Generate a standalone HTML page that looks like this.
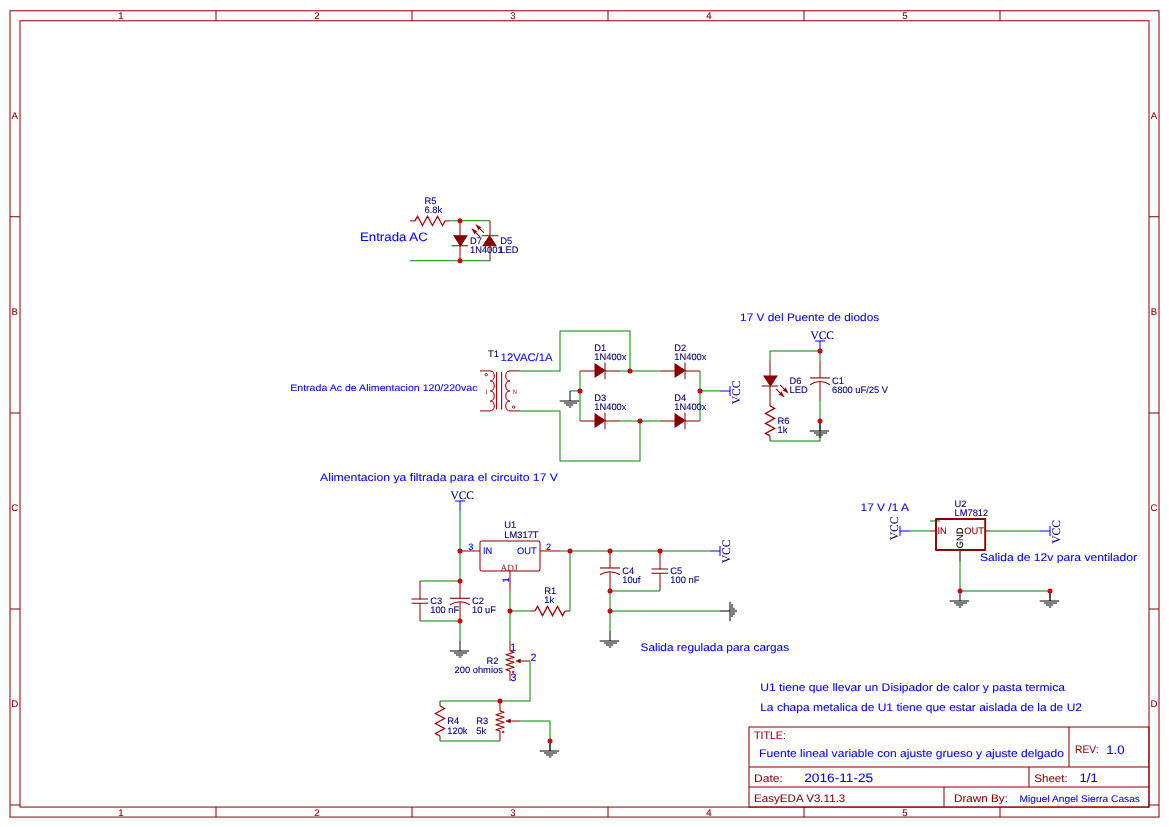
<!DOCTYPE html>
<html>
<head>
<meta charset="utf-8">
<title>Fuente lineal variable con ajuste grueso y ajuste delgado</title>
<style>
html,body{margin:0;padding:0;background:#fff;}
body{width:1169px;height:827px;overflow:hidden;font-family:"Liberation Sans",sans-serif;}
svg{display:block;will-change:transform;}
text{text-rendering:geometricPrecision;}
.ls{font-family:"Liberation Sans",sans-serif;}
.lf{font-family:"Liberation Serif",serif;}
.lm{font-family:"Liberation Mono",monospace;}
</style>
</head>
<body>
<svg width="1169" height="827" viewBox="0 0 1169 827">
<rect x="0" y="0" width="1169" height="827" fill="#fff"/>
<g transform="matrix(1 0 0 1.00036 0 0.766)" stroke-width="1" stroke-linecap="butt">
<rect x="10" y="10" width="1149" height="806" fill="none" stroke="#880000"/>
<rect x="20" y="20" width="1129" height="786" fill="none" stroke="#880000"/>
<path d="M216 10 L216 20 M216 806 L216 816 M412 10 L412 20 M412 806 L412 816 M608 10 L608 20 M608 806 L608 816 M804 10 L804 20 M804 806 L804 816 M1000 10 L1000 20 M1000 806 L1000 816 M10 216 L20 216 M1149 216 L1159 216 M10 412 L20 412 M1149 412 L1159 412 M10 608 L20 608 M1149 608 L1159 608 M10 804 L20 804 M1149 804 L1159 804 " stroke="#880000" fill="none"/>
<rect x="749" y="726" width="400" height="80" fill="none" stroke="#880000"/>
<path d="M749 766 L1149 766 M749 786 L1149 786 M1069 726 L1069 766 M1029 766 L1029 786 M944 786 L944 806" stroke="#880000" fill="none"/>
<path d="M410 220 L415 220" stroke="#880000" stroke-width="1" fill="none"/>
<path d="M445 220 L450 220" stroke="#880000" stroke-width="1" fill="none"/>
<path d="M415 220 L417.5 215.4 L422.5 224.6 L427.5 215.4 L432.5 224.6 L437.5 215.4 L442.5 224.6 L445 220" stroke="#A00000" stroke-width="1.25" fill="none" />
<path d="M450 220 L490 220" stroke="#008800" fill="none"/>
<path d="M410 260 L490 260" stroke="#008800" fill="none"/>
<g transform="translate(460 240) rotate(0)"><path d="M0 -20 L0 -5 M0 5 L0 20 M-8.3 5 L8.3 5" stroke="#880000" fill="none"/><path d="M-6.1 -5 L7 -5 L0.45 5 Z" fill="#880000" stroke="#880000" stroke-width="1"/></g>
<g transform="translate(490 240) rotate(180)"><path d="M0 -20 L0 -5 M0 5 L0 20 M-8.3 5 L8.3 5" stroke="#880000" fill="none"/><path d="M-6.1 -5 L7 -5 L0.45 5 Z" fill="#880000" stroke="#880000" stroke-width="1"/><path d="M6 8 L11 13" stroke="#880000" stroke-width="1.1" fill="none"/><path d="M14.21 16.21 L8.77 13.31 L10.75 12.75 L11.31 10.77 Z" fill="#880000" stroke="#880000" stroke-width="0.5" stroke-linejoin="round"/><path d="M10 4 L15 9" stroke="#880000" stroke-width="1.1" fill="none"/><path d="M18.21 12.21 L12.77 9.31 L14.75 8.75 L15.31 6.77 Z" fill="#880000" stroke="#880000" stroke-width="0.5" stroke-linejoin="round"/></g>
<circle cx="460" cy="220" r="2.5" fill="#D2000F"/>
<circle cx="460" cy="260" r="2.5" fill="#D2000F"/>
<path d="M480 370 L490 370" stroke="#880000" stroke-width="1" fill="none"/>
<path d="M480 410 L490 410" stroke="#880000" stroke-width="1" fill="none"/>
<path d="M510 370 L520 370" stroke="#880000" stroke-width="1" fill="none"/>
<path d="M510 410 L520 410" stroke="#880000" stroke-width="1" fill="none"/>
<path d="M490 370 A4.3 5 0 0 1 490 380 A4.3 5 0 0 1 490 390 A4.3 5 0 0 1 490 400 A4.3 5 0 0 1 490 410" stroke="#A00000" stroke-width="1.1" fill="none" />
<path d="M510 370 A4.3 5 0 0 0 510 380 A4.3 5 0 0 0 510 390 A4.3 5 0 0 0 510 400 A4.3 5 0 0 0 510 410" stroke="#A00000" stroke-width="1.1" fill="none" />
<path d="M496.6 371 L496.6 408.5 M501.6 371 L501.6 408.5" stroke="#A00000" stroke-width="1.1" fill="none" />
<circle cx="486.3" cy="373.8" r="1.2" fill="none" stroke="#A00000" stroke-width="0.9"/>
<circle cx="513.7" cy="406.2" r="1.2" fill="none" stroke="#A00000" stroke-width="0.9"/>
<path d="M520 370 L560 370 L560 330 L630 330 L630 370" stroke="#008800" fill="none"/>
<path d="M520 410 L560 410 L560 460 L640 460 L640 420" stroke="#008800" fill="none"/>
<path d="M580 370 L580 420" stroke="#008800" fill="none"/>
<path d="M580 390 L570 390" stroke="#008800" fill="none"/>
<path transform="translate(570 390) rotate(0)" d="M0 0 L0 10 M-10.3 10.09 L9.2 10.09 M-6 12.09 L7 12.09 M-4 14.09 L3.2 14.09 M-1.2 16.09 L1.3 16.09" stroke="#000" fill="none"/>
<path d="M620 370 L660 370" stroke="#008800" fill="none"/>
<path d="M620 420 L660 420" stroke="#008800" fill="none"/>
<path d="M700 370 L700 420" stroke="#008800" fill="none"/>
<path d="M700 390 L720 390" stroke="#008800" fill="none"/>
<path d="M720 390 L730 390 M730 385 L730 395" stroke="#0000FF" fill="none"/>
<g transform="translate(600 370) rotate(-90)"><path d="M0 -20 L0 -5 M0 5 L0 20 M-8.3 5 L8.3 5" stroke="#880000" fill="none"/><path d="M-6.1 -5 L7 -5 L0.45 5 Z" fill="#880000" stroke="#880000" stroke-width="1"/></g>
<g transform="translate(680 370) rotate(-90)"><path d="M0 -20 L0 -5 M0 5 L0 20 M-8.3 5 L8.3 5" stroke="#880000" fill="none"/><path d="M-6.1 -5 L7 -5 L0.45 5 Z" fill="#880000" stroke="#880000" stroke-width="1"/></g>
<g transform="translate(600 420) rotate(-90)"><path d="M0 -20 L0 -5 M0 5 L0 20 M-8.3 5 L8.3 5" stroke="#880000" fill="none"/><path d="M-6.1 -5 L7 -5 L0.45 5 Z" fill="#880000" stroke="#880000" stroke-width="1"/></g>
<g transform="translate(680 420) rotate(-90)"><path d="M0 -20 L0 -5 M0 5 L0 20 M-8.3 5 L8.3 5" stroke="#880000" fill="none"/><path d="M-6.1 -5 L7 -5 L0.45 5 Z" fill="#880000" stroke="#880000" stroke-width="1"/></g>
<circle cx="630" cy="370" r="2.5" fill="#D2000F"/>
<circle cx="640" cy="420" r="2.5" fill="#D2000F"/>
<circle cx="580" cy="390" r="2.5" fill="#D2000F"/>
<circle cx="700" cy="390" r="2.5" fill="#D2000F"/>
<path d="M820 350 L820 340 M815 340 L825 340" stroke="#0000FF" fill="none"/>
<path d="M770 360 L770 350 L820 350 L820 360" stroke="#008800" fill="none"/>
<g transform="translate(770 380) rotate(0)"><path d="M0 -20 L0 -5 M0 5 L0 20 M-8.3 5 L8.3 5" stroke="#880000" fill="none"/><path d="M-6.1 -5 L7 -5 L0.45 5 Z" fill="#880000" stroke="#880000" stroke-width="1"/><path d="M6 8 L11 13" stroke="#880000" stroke-width="1.1" fill="none"/><path d="M14.21 16.21 L8.77 13.31 L10.75 12.75 L11.31 10.77 Z" fill="#880000" stroke="#880000" stroke-width="0.5" stroke-linejoin="round"/><path d="M10 4 L15 9" stroke="#880000" stroke-width="1.1" fill="none"/><path d="M18.21 12.21 L12.77 9.31 L14.75 8.75 L15.31 6.77 Z" fill="#880000" stroke="#880000" stroke-width="0.5" stroke-linejoin="round"/></g>
<path d="M770 400 L770 405" stroke="#880000" stroke-width="1" fill="none"/>
<path d="M770 435 L770 440" stroke="#880000" stroke-width="1" fill="none"/>
<path d="M770 405 L774.6 407.5 L765.4 412.5 L774.6 417.5 L765.4 422.5 L774.6 427.5 L765.4 432.5 L770 435" stroke="#A00000" stroke-width="1.25" fill="none" />
<path d="M770 440 L820 440 L820 400" stroke="#008800" fill="none"/>
<path d="M820 360 L820 377" stroke="#880000" stroke-width="1" fill="none"/>
<path d="M820 380.8 L820 400" stroke="#880000" stroke-width="1" fill="none"/>
<path d="M810 377 L830 377" stroke="#880000" stroke-width="1.1" fill="none" />
<path d="M810 383.8 Q820 377.6 830 383.8" stroke="#A00000" stroke-width="1" fill="none" />
<path transform="translate(820 420) rotate(0)" d="M0 0 L0 10 M-10.3 10.0792 L9.2 10.0792 M-6 12.0792 L7 12.0792 M-4 14.0792 L3.2 14.0792 M-1.2 16.0792 L1.3 16.0792" stroke="#000" fill="none"/>
<circle cx="820" cy="350" r="2.5" fill="#D2000F"/>
<circle cx="820" cy="420" r="2.5" fill="#D2000F"/>
<path d="M460 510 L460 500 M455 500 L465 500" stroke="#0000FF" fill="none"/>
<path d="M460 510 L460 580" stroke="#008800" fill="none"/>
<path d="M460 550 L480 550" stroke="#880000" stroke-width="1" fill="none"/>
<path d="M540 550 L560 550" stroke="#880000" stroke-width="1" fill="none"/>
<path d="M510 570 L510 590" stroke="#880000" stroke-width="1" fill="none"/>
<rect x="480" y="540" width="60" height="30" rx="1.5" ry="1.5" fill="none" stroke="#880000"/>
<path d="M560 550 L710 550" stroke="#008800" fill="none"/>
<path d="M710 550 L720 550 M720 545 L720 555" stroke="#0000FF" fill="none"/>
<path d="M570 550 L570 610" stroke="#008800" fill="none"/>
<path d="M530 610 L535 610" stroke="#880000" stroke-width="1" fill="none"/>
<path d="M565 610 L570 610" stroke="#880000" stroke-width="1" fill="none"/>
<path d="M535 610 L537.5 605.4 L542.5 614.6 L547.5 605.4 L552.5 614.6 L557.5 605.4 L562.5 614.6 L565 610" stroke="#A00000" stroke-width="1.25" fill="none" />
<path d="M510 590 L510 640" stroke="#008800" fill="none"/>
<path d="M510 610 L530 610" stroke="#008800" fill="none"/>
<path d="M420 580 L460 580" stroke="#008800" fill="none"/>
<path d="M420 620 L460 620" stroke="#008800" fill="none"/>
<path d="M460 620 L460 640" stroke="#008800" fill="none"/>
<path d="M420 580 L420 598.5" stroke="#880000" stroke-width="1" fill="none"/>
<path d="M420 602 L420 620" stroke="#880000" stroke-width="1" fill="none"/>
<path d="M411.5 598 L428 598 M411.5 602.3 L428 602.3" stroke="#880000" stroke-width="1.1" fill="none" />
<path d="M460 580 L460 597.3" stroke="#880000" stroke-width="1" fill="none"/>
<path d="M460 600.8 L460 620" stroke="#880000" stroke-width="1" fill="none"/>
<path d="M450 597.3 L470 597.3" stroke="#880000" stroke-width="1.1" fill="none" />
<path d="M450 603.8 Q460 597.6 470 603.8" stroke="#A00000" stroke-width="1" fill="none" />
<path transform="translate(460 640) rotate(0)" d="M0 0 L0 10 M-10.3 10 L9.2 10 M-6 12 L7 12 M-4 14 L3.2 14 M-1.2 16 L1.3 16" stroke="#000" fill="none"/>
<circle cx="460" cy="550" r="2.5" fill="#D2000F"/>
<circle cx="460" cy="580" r="2.5" fill="#D2000F"/>
<circle cx="460" cy="620" r="2.5" fill="#D2000F"/>
<circle cx="570" cy="550" r="2.5" fill="#D2000F"/>
<circle cx="510" cy="610" r="2.5" fill="#D2000F"/>
<path d="M510 640 L510 650" stroke="#880000" stroke-width="1" fill="none"/>
<path d="M510 670 L510 680" stroke="#880000" stroke-width="1" fill="none"/>
<path d="M510 650 L514.1 651.25 L505.9 653.75 L514.1 656.25 L505.9 658.75 L514.1 661.25 L505.9 663.75 L514.1 666.25 L505.9 668.75 L510 670" stroke="#A00000" stroke-width="1" fill="none" stroke-linejoin="round"/>
<path d="M530 660 L520 660" stroke="#880000" stroke-width="1" fill="none"/>
<path d="M515.8 660 L520.4 658 L520.4 662 Z" stroke="#880000" stroke-width="0.5" fill="#880000" />
<circle cx="513.1" cy="671" r="1.3" fill="#DD2222"/>
<path d="M530 660 L530 700 L440 700" stroke="#008800" fill="none"/>
<path d="M440 700 L440 705" stroke="#880000" stroke-width="1" fill="none"/>
<path d="M440 735 L440 740" stroke="#880000" stroke-width="1" fill="none"/>
<path d="M440 705 L444.6 707.5 L435.4 712.5 L444.6 717.5 L435.4 722.5 L444.6 727.5 L435.4 732.5 L440 735" stroke="#A00000" stroke-width="1.25" fill="none" />
<path d="M440 740 L500 740" stroke="#008800" fill="none"/>
<path d="M500 700 L500 710" stroke="#880000" stroke-width="1" fill="none"/>
<path d="M500 730 L500 740" stroke="#880000" stroke-width="1" fill="none"/>
<path d="M500 710 L504.1 711.25 L495.9 713.75 L504.1 716.25 L495.9 718.75 L504.1 721.25 L495.9 723.75 L504.1 726.25 L495.9 728.75 L500 730" stroke="#A00000" stroke-width="1" fill="none" stroke-linejoin="round"/>
<path d="M520 720 L510 720" stroke="#880000" stroke-width="1" fill="none"/>
<path d="M505.8 720 L510.4 718 L510.4 722 Z" stroke="#880000" stroke-width="0.5" fill="#880000" />
<circle cx="503.1" cy="731" r="1.3" fill="#DD2222"/>
<path d="M520 720 L550 720 L550 740" stroke="#008800" fill="none"/>
<path d="M550 740 L550 750" stroke="#008800" fill="none"/>
<path transform="translate(550 740) rotate(0)" d="M0 0 L0 10 M-10.3 9.96401 L9.2 9.96401 M-6 11.964 L7 11.964 M-4 13.964 L3.2 13.964 M-1.2 15.964 L1.3 15.964" stroke="#000" fill="none"/>
<circle cx="500" cy="700" r="2.5" fill="#D2000F"/>
<circle cx="550" cy="740" r="2.5" fill="#D2000F"/>
<path d="M610 550 L610 567" stroke="#880000" stroke-width="1" fill="none"/>
<path d="M610 570.8 L610 590" stroke="#880000" stroke-width="1" fill="none"/>
<path d="M600 567 L620 567" stroke="#880000" stroke-width="1.1" fill="none" />
<path d="M600 573.8 Q610 567.6 620 573.8" stroke="#A00000" stroke-width="1" fill="none" />
<path d="M660 550 L660 568.5" stroke="#880000" stroke-width="1" fill="none"/>
<path d="M660 572 L660 590" stroke="#880000" stroke-width="1" fill="none"/>
<path d="M651.5 568 L668 568 M651.5 572.3 L668 572.3" stroke="#880000" stroke-width="1.1" fill="none" />
<path d="M610 590 L660 590" stroke="#008800" fill="none"/>
<path d="M610 590 L610 630" stroke="#008800" fill="none"/>
<path d="M610 610 L720 610" stroke="#008800" fill="none"/>
<path transform="translate(610 630) rotate(0)" d="M0 0 L0 10 M-10.3 10.0036 L9.2 10.0036 M-6 12.0036 L7 12.0036 M-4 14.0036 L3.2 14.0036 M-1.2 16.0036 L1.3 16.0036" stroke="#000" fill="none"/>
<path transform="translate(720 610) rotate(-90)" d="M0 0 L0 10 M-10.3 10 L9.2 10 M-6 12 L7 12 M-4 14 L3.2 14 M-1.2 16 L1.3 16" stroke="#000" fill="none"/>
<circle cx="610" cy="550" r="2.5" fill="#D2000F"/>
<circle cx="660" cy="550" r="2.5" fill="#D2000F"/>
<circle cx="610" cy="590" r="2.5" fill="#D2000F"/>
<circle cx="610" cy="610" r="2.5" fill="#D2000F"/>
<path d="M910 530 L930 530" stroke="#008800" fill="none"/>
<path d="M930 520 L940 520" stroke="#008800" fill="none"/>
<path d="M910 530 L900 530 M900 525 L900 535" stroke="#0000FF" fill="none"/>
<path d="M930 530 L936 530" stroke="#880000" stroke-width="1" fill="none"/>
<path d="M985 530 L990 530" stroke="#880000" stroke-width="1" fill="none"/>
<rect x="936" y="518.05" width="49.2" height="31" fill="none" stroke="#880000" stroke-width="1.9" stroke-linejoin="round"/>
<path d="M960 550 L960 560" stroke="#000" stroke-width="1" fill="none"/>
<path d="M990 530 L1040 530" stroke="#008800" fill="none"/>
<path d="M1040 530 L1050 530 M1050 525 L1050 535" stroke="#0000FF" fill="none"/>
<path d="M960 560 L960 590" stroke="#008800" fill="none"/>
<path d="M960 590 L1050 590" stroke="#008800" fill="none"/>
<path d="M1050 590 L1050 600" stroke="#008800" fill="none"/>
<path transform="translate(960 590) rotate(0)" d="M0 0 L0 10 M-10.3 10.018 L9.2 10.018 M-6 12.018 L7 12.018 M-4 14.018 L3.2 14.018 M-1.2 16.018 L1.3 16.018" stroke="#000" fill="none"/>
<path transform="translate(1050 590) rotate(0)" d="M0 0 L0 10 M-10.3 10.018 L9.2 10.018 M-6 12.018 L7 12.018 M-4 14.018 L3.2 14.018 M-1.2 16.018 L1.3 16.018" stroke="#000" fill="none"/>
<circle cx="960" cy="590" r="2.5" fill="#D2000F"/>
<circle cx="1050" cy="590" r="2.5" fill="#D2000F"/>
</g>
<g>
<text class="ls" x="121" y="18.8" font-size="9.6" fill="#880000" text-anchor="middle" stroke="#880000" stroke-width="0.1">1</text>
<text class="ls" x="121" y="815.8" font-size="9.6" fill="#880000" text-anchor="middle" stroke="#880000" stroke-width="0.1">1</text>
<text class="ls" x="317" y="18.8" font-size="9.6" fill="#880000" text-anchor="middle" stroke="#880000" stroke-width="0.1">2</text>
<text class="ls" x="317" y="815.8" font-size="9.6" fill="#880000" text-anchor="middle" stroke="#880000" stroke-width="0.1">2</text>
<text class="ls" x="513" y="18.8" font-size="9.6" fill="#880000" text-anchor="middle" stroke="#880000" stroke-width="0.1">3</text>
<text class="ls" x="513" y="815.8" font-size="9.6" fill="#880000" text-anchor="middle" stroke="#880000" stroke-width="0.1">3</text>
<text class="ls" x="709" y="18.8" font-size="9.6" fill="#880000" text-anchor="middle" stroke="#880000" stroke-width="0.1">4</text>
<text class="ls" x="709" y="815.8" font-size="9.6" fill="#880000" text-anchor="middle" stroke="#880000" stroke-width="0.1">4</text>
<text class="ls" x="905" y="18.8" font-size="9.6" fill="#880000" text-anchor="middle" stroke="#880000" stroke-width="0.1">5</text>
<text class="ls" x="905" y="815.8" font-size="9.6" fill="#880000" text-anchor="middle" stroke="#880000" stroke-width="0.1">5</text>
<text class="ls" x="14.8" y="119.4" font-size="9.6" fill="#880000" text-anchor="middle" stroke="#880000" stroke-width="0.1">A</text>
<text class="ls" x="1154" y="119.4" font-size="9.6" fill="#880000" text-anchor="middle" stroke="#880000" stroke-width="0.1">A</text>
<text class="ls" x="14.8" y="315.4" font-size="9.6" fill="#880000" text-anchor="middle" stroke="#880000" stroke-width="0.1">B</text>
<text class="ls" x="1154" y="315.4" font-size="9.6" fill="#880000" text-anchor="middle" stroke="#880000" stroke-width="0.1">B</text>
<text class="ls" x="14.8" y="511.4" font-size="9.6" fill="#880000" text-anchor="middle" stroke="#880000" stroke-width="0.1">C</text>
<text class="ls" x="1154" y="511.4" font-size="9.6" fill="#880000" text-anchor="middle" stroke="#880000" stroke-width="0.1">C</text>
<text class="ls" x="14.8" y="707.4" font-size="9.6" fill="#880000" text-anchor="middle" stroke="#880000" stroke-width="0.1">D</text>
<text class="ls" x="1154" y="707.4" font-size="9.6" fill="#880000" text-anchor="middle" stroke="#880000" stroke-width="0.1">D</text>
<text class="ls" x="754" y="739" font-size="10.9" fill="#880000" textLength="31.9" lengthAdjust="spacingAndGlyphs" stroke="#880000" stroke-width="0.06">TITLE:</text>
<text class="ls" x="759.1" y="757" font-size="11" fill="#0000FF" textLength="304.9" lengthAdjust="spacingAndGlyphs" stroke="#0000FF" stroke-width="0.06">Fuente lineal variable con ajuste grueso y ajuste delgado</text>
<text class="ls" x="1075" y="753.3" font-size="10.9" fill="#880000" textLength="23.5" lengthAdjust="spacingAndGlyphs" stroke="#880000" stroke-width="0.06">REV:</text>
<text class="ls" x="1106.2" y="754.1" font-size="12.3" fill="#0000FF" textLength="18.4" lengthAdjust="spacingAndGlyphs" stroke="#0000FF" stroke-width="0.06">1.0</text>
<text class="ls" x="754" y="781.6" font-size="10.9" fill="#880000" textLength="28.9" lengthAdjust="spacingAndGlyphs" stroke="#880000" stroke-width="0.06">Date:</text>
<text class="ls" x="804.2" y="781.6" font-size="12.3" fill="#0000FF" textLength="69" lengthAdjust="spacingAndGlyphs" stroke="#0000FF" stroke-width="0.06">2016-11-25</text>
<text class="ls" x="1034.3" y="781.6" font-size="10.9" fill="#880000" textLength="33.4" lengthAdjust="spacingAndGlyphs" stroke="#880000" stroke-width="0.06">Sheet:</text>
<text class="ls" x="1079.4" y="781.6" font-size="12.3" fill="#0000FF" textLength="18.4" lengthAdjust="spacingAndGlyphs" stroke="#0000FF" stroke-width="0.06">1/1</text>
<text class="ls" x="754" y="802" font-size="10.9" fill="#880000" textLength="91.3" lengthAdjust="spacingAndGlyphs" stroke="#880000" stroke-width="0.06">EasyEDA V3.11.3</text>
<text class="ls" x="954" y="802" font-size="10.9" fill="#880000" textLength="53.9" lengthAdjust="spacingAndGlyphs" stroke="#880000" stroke-width="0.06">Drawn By:</text>
<text class="ls" x="1019.6" y="802" font-size="9.6" fill="#0000FF" textLength="120.4" lengthAdjust="spacingAndGlyphs" stroke="#0000FF" stroke-width="0.06">Miguel Angel Sierra Casas</text>
<text class="ls" x="360" y="241.3" font-size="12.3" fill="#0000FF" textLength="67.7" lengthAdjust="spacingAndGlyphs" stroke="#0000FF" stroke-width="0.06">Entrada AC</text>
<text class="ls" x="290.2" y="391" font-size="9.6" fill="#0000FF" textLength="187.3" lengthAdjust="spacingAndGlyphs" stroke="#0000FF" stroke-width="0.06">Entrada Ac de Alimentacion 120/220vac</text>
<text class="ls" x="500.6" y="360.8" font-size="11" fill="#0000FF" textLength="52" lengthAdjust="spacingAndGlyphs" stroke="#0000FF" stroke-width="0.06">12VAC/1A</text>
<text class="ls" x="740.1" y="320.85" font-size="11" fill="#0000FF" textLength="139.1" lengthAdjust="spacingAndGlyphs" stroke="#0000FF" stroke-width="0.06">17 V del Puente de diodos</text>
<text class="ls" x="320" y="481" font-size="11" fill="#0000FF" textLength="238" lengthAdjust="spacingAndGlyphs" stroke="#0000FF" stroke-width="0.06">Alimentacion ya filtrada para el circuito 17 V</text>
<text class="ls" x="860.5" y="510.9" font-size="11" fill="#0000FF" textLength="48.4" lengthAdjust="spacingAndGlyphs" stroke="#0000FF" stroke-width="0.06">17 V /1 A</text>
<text class="ls" x="979.9" y="560.8" font-size="11" fill="#0000FF" textLength="157.2" lengthAdjust="spacingAndGlyphs" stroke="#0000FF" stroke-width="0.06">Salida de 12v para ventilador</text>
<text class="ls" x="640.5" y="651" font-size="11" fill="#0000FF" textLength="148.6" lengthAdjust="spacingAndGlyphs" stroke="#0000FF" stroke-width="0.06">Salida regulada para cargas</text>
<text class="ls" x="760.2" y="690.9" font-size="11" fill="#0000FF" textLength="304.9" lengthAdjust="spacingAndGlyphs" stroke="#0000FF" stroke-width="0.06">U1 tiene que llevar un Disipador de calor y pasta termica</text>
<text class="ls" x="760.2" y="710.6" font-size="11" fill="#0000FF" textLength="321.8" lengthAdjust="spacingAndGlyphs" stroke="#0000FF" stroke-width="0.06">La chapa metalica de U1 tiene que estar aislada de la de U2</text>
<text class="ls" x="424.5" y="203.8" font-size="9.33" fill="#000080" stroke="#000080" stroke-width="0.1">R5</text>
<text class="ls" x="424.5" y="213" font-size="9.33" fill="#000080" stroke="#000080" stroke-width="0.1">6.8k</text>
<text class="ls" x="470" y="244" font-size="9.33" fill="#000080" stroke="#000080" stroke-width="0.1">D7</text>
<text class="ls" x="470" y="253.2" font-size="9.33" fill="#000080" stroke="#000080" stroke-width="0.1">1N4001</text>
<text class="ls" x="500.3" y="244" font-size="9.33" fill="#000080" stroke="#000080" stroke-width="0.1">D5</text>
<text class="ls" x="500.3" y="253.2" font-size="9.33" fill="#000080" stroke="#000080" stroke-width="0.1">LED</text>
<text class="lf" x="485.6" y="393.6" font-size="6.5" fill="#A03A3A" stroke="#A03A3A" stroke-width="0.1">I</text>
<text class="lf" x="512.4" y="393.6" font-size="6.5" fill="#A03A3A" stroke="#A03A3A" stroke-width="0.1">N</text>
<text class="ls" x="488" y="356.6" font-size="9.33" fill="#000080" stroke="#000080" stroke-width="0.1">T1</text>
<text class="ls" x="594.3" y="351" font-size="9.33" fill="#000080" stroke="#000080" stroke-width="0.1">D1</text>
<text class="ls" x="594.3" y="360.2" font-size="9.33" fill="#000080" stroke="#000080" stroke-width="0.1">1N400x</text>
<text class="ls" x="674.3" y="351" font-size="9.33" fill="#000080" stroke="#000080" stroke-width="0.1">D2</text>
<text class="ls" x="674.3" y="360.2" font-size="9.33" fill="#000080" stroke="#000080" stroke-width="0.1">1N400x</text>
<text class="ls" x="594.3" y="401" font-size="9.33" fill="#000080" stroke="#000080" stroke-width="0.1">D3</text>
<text class="ls" x="594.3" y="410.2" font-size="9.33" fill="#000080" stroke="#000080" stroke-width="0.1">1N400x</text>
<text class="ls" x="674.3" y="401" font-size="9.33" fill="#000080" stroke="#000080" stroke-width="0.1">D4</text>
<text class="ls" x="674.3" y="410.2" font-size="9.33" fill="#000080" stroke="#000080" stroke-width="0.1">1N400x</text>
<text class="lf" x="740.3" y="404.3" font-size="11.5" fill="#000080" transform="rotate(-90 740.3 404.3)" stroke="#000080" stroke-width="0.1">VCC</text>
<text class="lf" x="810.4" y="338.6" font-size="11.5" fill="#000080" stroke="#000080" stroke-width="0.1">VCC</text>
<text class="ls" x="789.5" y="384" font-size="9.33" fill="#000080" stroke="#000080" stroke-width="0.1">D6</text>
<text class="ls" x="789.5" y="393.2" font-size="9.33" fill="#000080" stroke="#000080" stroke-width="0.1">LED</text>
<text class="ls" x="832" y="384" font-size="9.33" fill="#000080" stroke="#000080" stroke-width="0.1">C1</text>
<text class="ls" x="832" y="393.2" font-size="9.33" fill="#000080" stroke="#000080" stroke-width="0.1">6800 uF/25 V</text>
<text class="ls" x="777.5" y="424" font-size="9.33" fill="#000080" stroke="#000080" stroke-width="0.1">R6</text>
<text class="ls" x="777.5" y="433.2" font-size="9.33" fill="#000080" stroke="#000080" stroke-width="0.1">1k</text>
<text class="lf" x="450.4" y="498.7" font-size="11.5" fill="#000080" stroke="#000080" stroke-width="0.1">VCC</text>
<text class="lf" x="730.3" y="563.3" font-size="11.5" fill="#000080" transform="rotate(-90 730.3 563.3)" stroke="#000080" stroke-width="0.1">VCC</text>
<text class="ls" x="504.3" y="528.3" font-size="9.33" fill="#000080" stroke="#000080" stroke-width="0.1">U1</text>
<text class="ls" x="504.3" y="537.6" font-size="9.33" fill="#000080" stroke="#000080" stroke-width="0.1">LM317T</text>
<text class="ls" x="468.3" y="549.8" font-size="9.33" fill="#0000FF" stroke="#0000FF" stroke-width="0.1">3</text>
<text class="ls" x="546.1" y="549.8" font-size="9.33" fill="#0000FF" stroke="#0000FF" stroke-width="0.1">2</text>
<text class="ls" x="483" y="553.8" font-size="9.33" fill="#0000FF" stroke="#0000FF" stroke-width="0.1">IN</text>
<text class="ls" x="517.1" y="553.8" font-size="9.33" fill="#0000FF" stroke="#0000FF" stroke-width="0.1">OUT</text>
<text class="lf" x="500.6" y="570.6" font-size="9.33" fill="#A03030" stroke="#A03030" stroke-width="0.1">ADJ</text>
<text class="ls" x="509.2" y="582.6" font-size="9.33" fill="#0000FF" transform="rotate(-90 509.2 582.6)" stroke="#0000FF" stroke-width="0.1">1</text>
<text class="ls" x="430.2" y="603.8" font-size="9.33" fill="#000080" stroke="#000080" stroke-width="0.1">C3</text>
<text class="ls" x="430.2" y="613" font-size="9.33" fill="#000080" stroke="#000080" stroke-width="0.1">100 nF</text>
<text class="ls" x="472" y="603.8" font-size="9.33" fill="#000080" stroke="#000080" stroke-width="0.1">C2</text>
<text class="ls" x="472" y="613" font-size="9.33" fill="#000080" stroke="#000080" stroke-width="0.1">10 uF</text>
<text class="ls" x="544.3" y="593.7" font-size="9.33" fill="#000080" stroke="#000080" stroke-width="0.1">R1</text>
<text class="ls" x="544.3" y="602.9" font-size="9.33" fill="#000080" stroke="#000080" stroke-width="0.1">1k</text>
<text class="ls" x="510.2" y="650.8" font-size="10.67" fill="#0000FF" stroke="#0000FF" stroke-width="0.1">1</text>
<text class="ls" x="530.6" y="660.8" font-size="10.67" fill="#0000FF" stroke="#0000FF" stroke-width="0.1">2</text>
<text class="ls" x="510.5" y="680.75" font-size="10.67" fill="#0000FF" stroke="#0000FF" stroke-width="0.1">3</text>
<text class="ls" x="486.5" y="663.9" font-size="9.33" fill="#000080" stroke="#000080" stroke-width="0.1">R2</text>
<text class="ls" x="454.6" y="672.8" font-size="9.33" fill="#000080" stroke="#000080" stroke-width="0.1">200 ohmios</text>
<text class="ls" x="447.3" y="723.8" font-size="9.33" fill="#000080" stroke="#000080" stroke-width="0.1">R4</text>
<text class="ls" x="447.3" y="733.5" font-size="9.33" fill="#000080" stroke="#000080" stroke-width="0.1">120k</text>
<text class="ls" x="476.2" y="723.8" font-size="9.33" fill="#000080" stroke="#000080" stroke-width="0.1">R3</text>
<text class="ls" x="476.2" y="733.5" font-size="9.33" fill="#000080" stroke="#000080" stroke-width="0.1">5k</text>
<text class="ls" x="622.2" y="574.2" font-size="9.33" fill="#000080" stroke="#000080" stroke-width="0.1">C4</text>
<text class="ls" x="622.2" y="583.4" font-size="9.33" fill="#000080" stroke="#000080" stroke-width="0.1">10uf</text>
<text class="ls" x="670.3" y="574.2" font-size="9.33" fill="#000080" stroke="#000080" stroke-width="0.1">C5</text>
<text class="ls" x="670.3" y="583.4" font-size="9.33" fill="#000080" stroke="#000080" stroke-width="0.1">100 nF</text>
<text class="lf" x="898.3" y="540.2" font-size="11.5" fill="#000080" transform="rotate(-90 898.3 540.2)" stroke="#000080" stroke-width="0.1">VCC</text>
<text class="lf" x="1060.3" y="543.8" font-size="11.5" fill="#000080" transform="rotate(-90 1060.3 543.8)" stroke="#000080" stroke-width="0.1">VCC</text>
<text class="ls" x="954.5" y="506.5" font-size="9.33" fill="#000080" stroke="#000080" stroke-width="0.1">U2</text>
<text class="ls" x="954.5" y="515.8" font-size="9.33" fill="#000080" stroke="#000080" stroke-width="0.1">LM7812</text>
<text class="ls" x="937.4" y="533.7" font-size="9.33" fill="#880000" stroke="#880000" stroke-width="0.1">IN</text>
<text class="ls" x="964.2" y="533.7" font-size="9.33" fill="#880000" stroke="#880000" stroke-width="0.1">OUT</text>
<text class="ls" x="963.3" y="548.2" font-size="9.33" fill="#000" transform="rotate(-90 963.3 548.2)" stroke="#000" stroke-width="0.1">GND</text>
</g>
</svg>
</body>
</html>
